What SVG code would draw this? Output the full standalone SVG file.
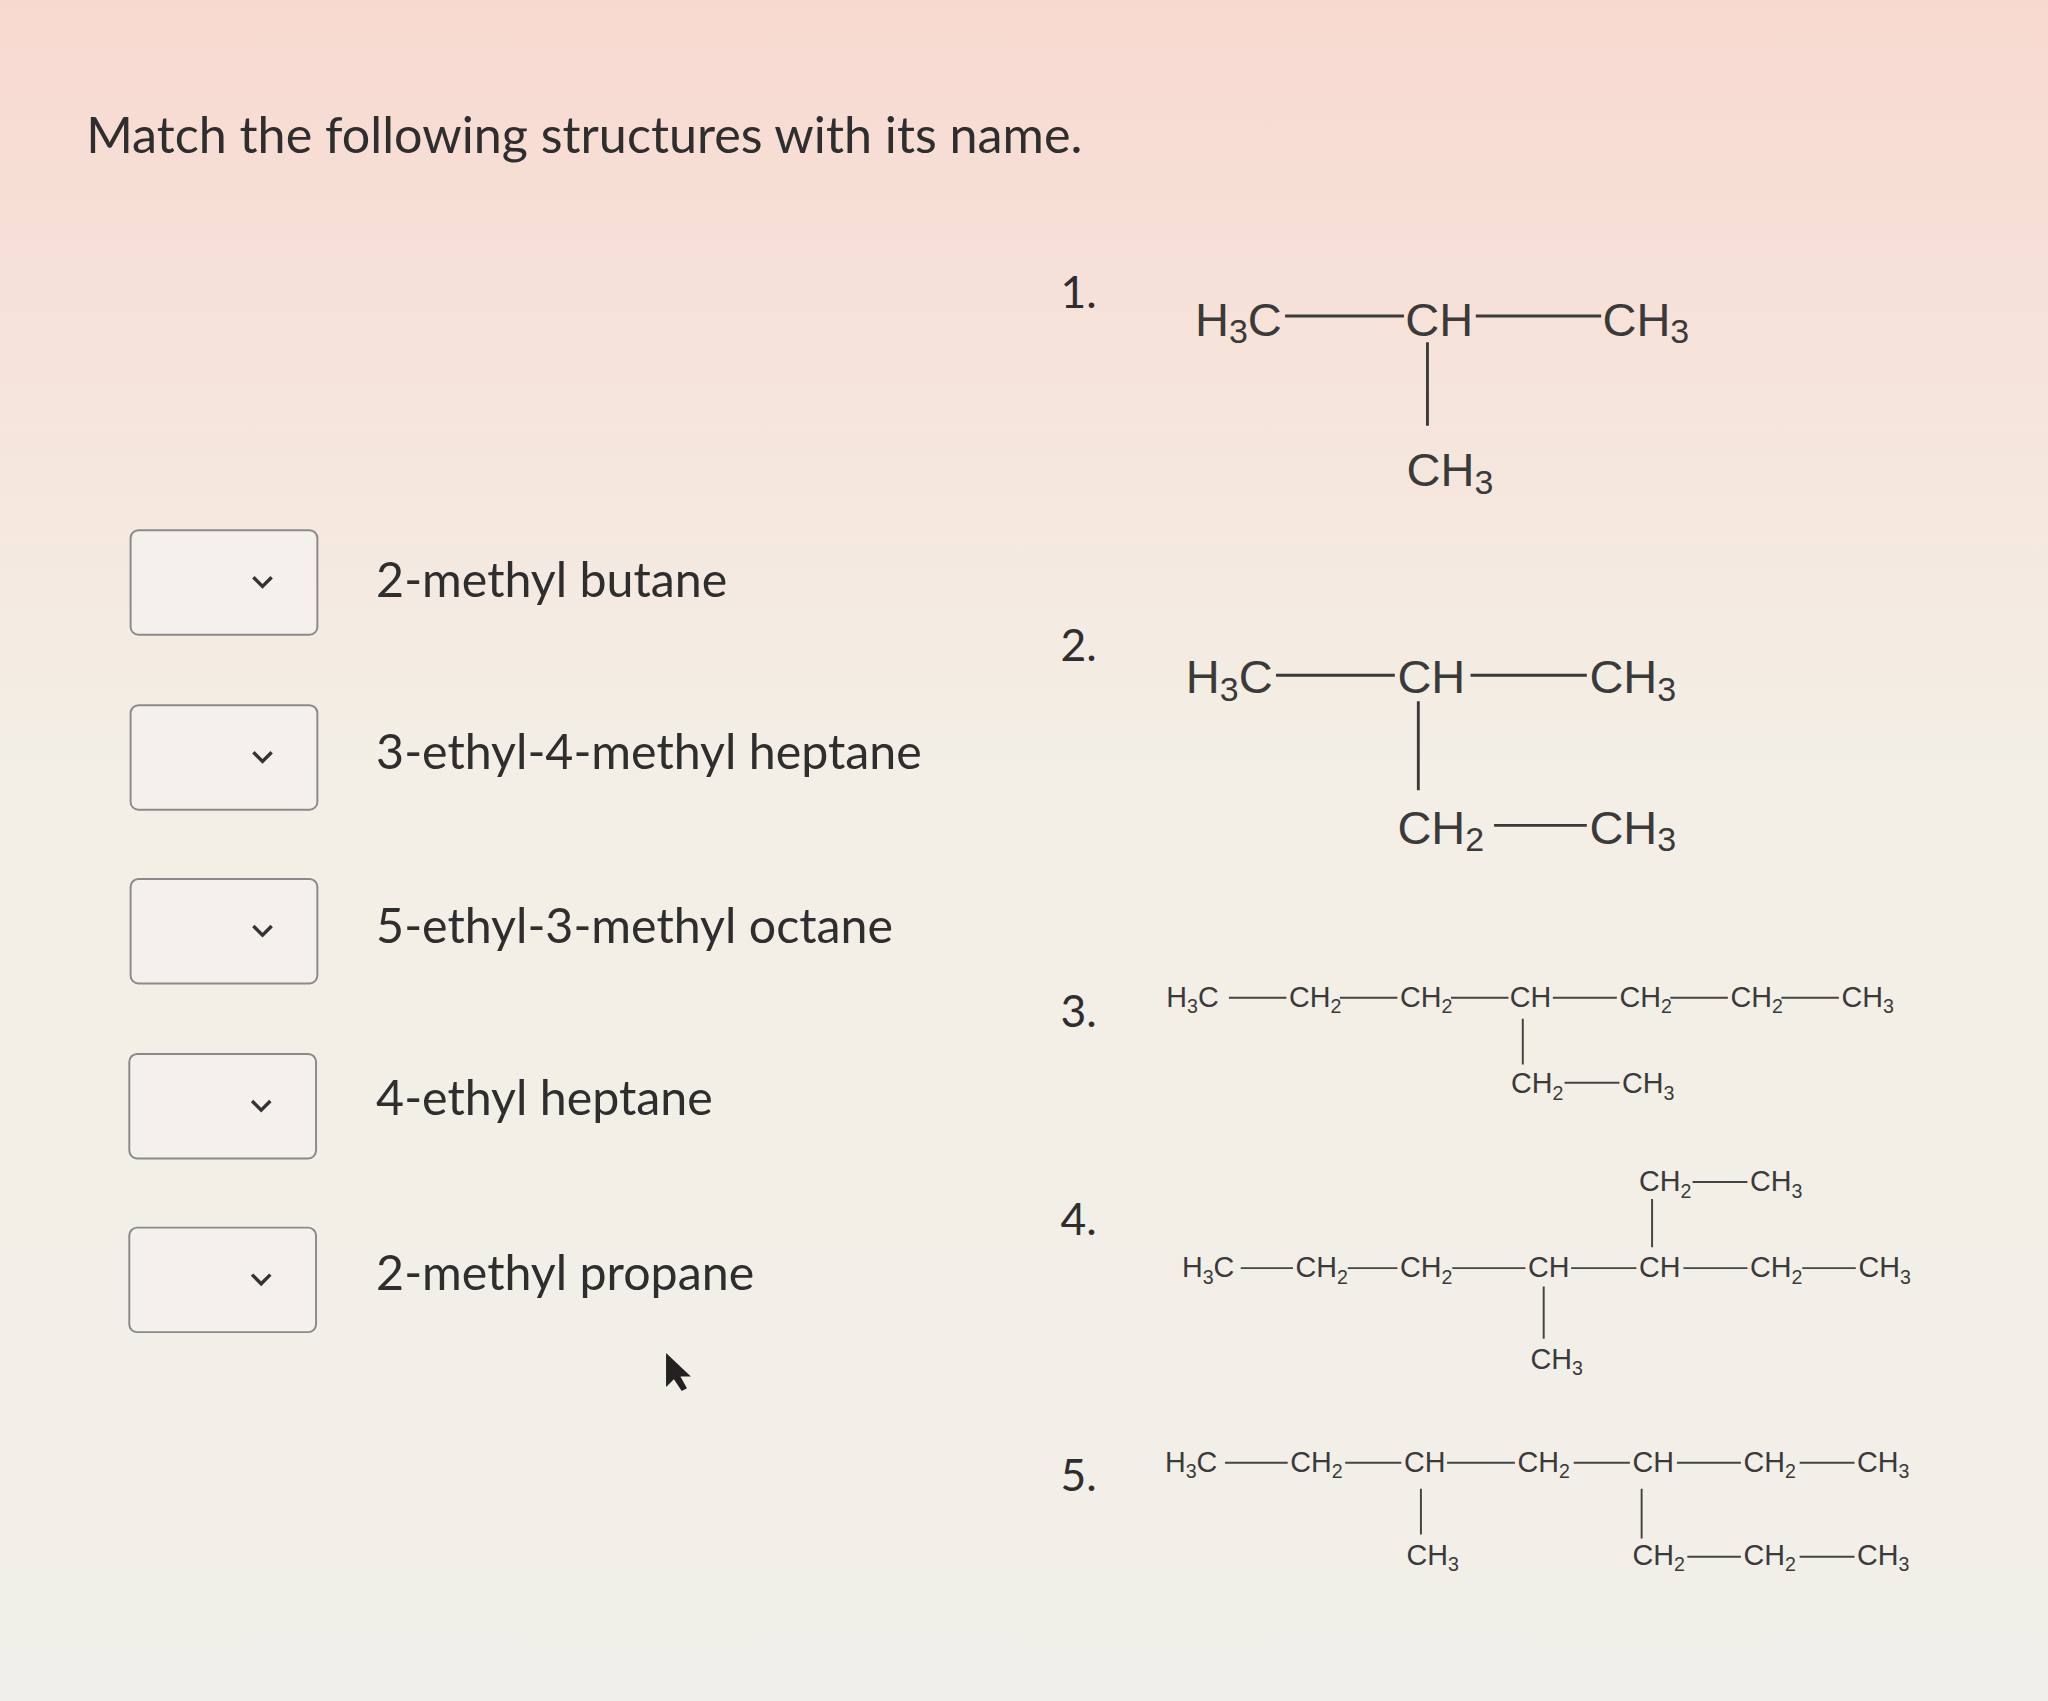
<svg xmlns="http://www.w3.org/2000/svg" width="2048" height="1701" viewBox="0 0 2048 1701">
<defs>
<linearGradient id="bg" x1="0" y1="0" x2="0" y2="1">
<stop offset="0" stop-color="#f8d9d0"/><stop offset="0.45" stop-color="#f3efe6"/><stop offset="1" stop-color="#f1efe9"/>
</linearGradient>
<style>
.ui{font-family:Lato,"Liberation Sans",sans-serif;fill:#2e2e2e}
.ch{font-family:"Liberation Sans",Arial,sans-serif;fill:#3a3a3a}
.b{stroke:#3a3a3a;stroke-width:2.2;fill:none}
.bs{stroke:#444;stroke-width:1.5;fill:none}
.box{fill:#f4f1ec;stroke:#8a8a8a;stroke-width:1.5}
.chev{stroke:#333;stroke-width:2.6;fill:none}
</style>
</defs>
<rect width="2048" height="1701" fill="url(#bg)"/>
<g transform="scale(1.306)">
<text class="ui" x="66" y="117" font-size="38.5">Match the following structures with its name.</text>
<g id="answers">
<g id="opt1"><rect class="box" x="100" y="406" width="143" height="80" rx="6"/><path class="chev" d="M194 442l7 7 7-7"/><text class="ui" x="288" y="457" font-size="37">2-methyl butane</text></g>
<g id="opt2"><rect class="box" x="100" y="540" width="143" height="80" rx="6"/><path class="chev" d="M194 576l7 7 7-7"/><text class="ui" x="288" y="589" font-size="37">3-ethyl-4-methyl heptane</text></g>
<g id="opt3"><rect class="box" x="100" y="673" width="143" height="80" rx="6"/><path class="chev" d="M194 709l7 7 7-7"/><text class="ui" x="288" y="722" font-size="37">5-ethyl-3-methyl octane</text></g>
<g id="opt4"><rect class="box" x="99" y="807" width="143" height="80" rx="6"/><path class="chev" d="M193 843l7 7 7-7"/><text class="ui" x="288" y="854" font-size="37">4-ethyl heptane</text></g>
<g id="opt5"><rect class="box" x="99" y="940" width="143" height="80" rx="6"/><path class="chev" d="M193 976l7 7 7-7"/><text class="ui" x="288" y="988" font-size="37">2-methyl propane</text></g>
</g>
<path d="M510 1036l0 26 6-6 6 9 4-2-5-9 8 0z" fill="#222"/>
<g class="ui" font-size="34"><text x="812" y="236">1.</text><text x="812" y="506">2.</text><text x="812" y="786">3.</text><text x="812" y="946">4.</text><text x="812" y="1142">5.</text></g>
<g id="s1" class="ch" font-size="36">
<text x="915" y="257">H<tspan font-size="26" dy="6">3</tspan><tspan dy="-6">C</tspan></text>
<text x="1076" y="257">CH</text>
<text x="1227" y="257">CH<tspan font-size="26" dy="6">3</tspan></text>
<text x="1077" y="372">CH<tspan font-size="26" dy="6">3</tspan></text>
</g>
<g id="s2" class="ch" font-size="36">
<text x="908" y="531">H<tspan font-size="26" dy="6">3</tspan><tspan dy="-6">C</tspan></text>
<text x="1070" y="531">CH</text>
<text x="1217" y="531">CH<tspan font-size="26" dy="6">3</tspan></text>
<text x="1070" y="646">CH<tspan font-size="26" dy="6">2</tspan></text>
<text x="1217" y="646">CH<tspan font-size="26" dy="6">3</tspan></text>
</g>
<g id="s3" class="ch" font-size="22">
<text x="893" y="771">H<tspan font-size="15" dy="5">3</tspan><tspan dy="-5">C</tspan></text>
<text x="987" y="771">CH<tspan font-size="15" dy="5">2</tspan></text>
<text x="1072" y="771">CH<tspan font-size="15" dy="5">2</tspan></text>
<text x="1156" y="771">CH</text>
<text x="1240" y="771">CH<tspan font-size="15" dy="5">2</tspan></text>
<text x="1325" y="771">CH<tspan font-size="15" dy="5">2</tspan></text>
<text x="1410" y="771">CH<tspan font-size="15" dy="5">3</tspan></text>
<text x="1157" y="837">CH<tspan font-size="15" dy="5">2</tspan></text>
<text x="1242" y="837">CH<tspan font-size="15" dy="5">3</tspan></text>
</g>
<g id="s4" class="ch" font-size="22">
<text x="1255" y="912">CH<tspan font-size="15" dy="5">2</tspan></text>
<text x="1340" y="912">CH<tspan font-size="15" dy="5">3</tspan></text>
<text x="905" y="978">H<tspan font-size="15" dy="5">3</tspan><tspan dy="-5">C</tspan></text>
<text x="992" y="978">CH<tspan font-size="15" dy="5">2</tspan></text>
<text x="1072" y="978">CH<tspan font-size="15" dy="5">2</tspan></text>
<text x="1170" y="978">CH</text>
<text x="1255" y="978">CH</text>
<text x="1340" y="978">CH<tspan font-size="15" dy="5">2</tspan></text>
<text x="1423" y="978">CH<tspan font-size="15" dy="5">3</tspan></text>
<text x="1172" y="1048">CH<tspan font-size="15" dy="5">3</tspan></text>
</g>
<g id="s5" class="ch" font-size="22">
<text x="892" y="1127">H<tspan font-size="15" dy="5">3</tspan><tspan dy="-5">C</tspan></text>
<text x="988" y="1127">CH<tspan font-size="15" dy="5">2</tspan></text>
<text x="1075" y="1127">CH</text>
<text x="1162" y="1127">CH<tspan font-size="15" dy="5">2</tspan></text>
<text x="1250" y="1127">CH</text>
<text x="1335" y="1127">CH<tspan font-size="15" dy="5">2</tspan></text>
<text x="1422" y="1127">CH<tspan font-size="15" dy="5">3</tspan></text>
<text x="1077" y="1198">CH<tspan font-size="15" dy="5">3</tspan></text>
<text x="1250" y="1198">CH<tspan font-size="15" dy="5">2</tspan></text>
<text x="1335" y="1198">CH<tspan font-size="15" dy="5">2</tspan></text>
<text x="1422" y="1198">CH<tspan font-size="15" dy="5">3</tspan></text>
</g>
<g id="bonds">
<path class="b" d="M984 242H1075M1130 242H1226M1093 262V326"/>
<path class="b" d="M977 517H1068M1126 517H1215M1086 537V605M1144 632H1215"/>
<path class="bs" d="M941 764H985M1026 764H1070M1111 764H1155M1189 764H1238M1279 764H1323M1364 764H1408M1166 780V815M1198 829H1240"/>
<path class="bs" d="M1296 905H1338M1265 918V955M950 971H990M1032 971H1070M1112 971H1168M1203 971H1253M1289 971H1338M1380 971H1421M1182 985V1025"/>
<path class="bs" d="M938 1120H986M1030 1120H1073M1108 1120H1160M1205 1120H1248M1284 1120H1333M1378 1120H1420M1088 1140V1175M1257 1140V1178M1292 1192H1333M1378 1192H1420"/>
</g>
</g>
</svg>
